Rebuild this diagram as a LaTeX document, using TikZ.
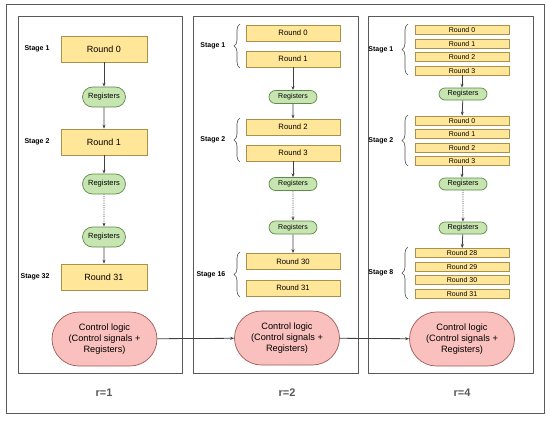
\documentclass[tikz,border=0pt]{standalone}
\usepackage{fontspec}
\setmainfont{Liberation Sans}
\usepackage{xcolor}
\usetikzlibrary{arrows.meta,shapes.misc,decorations.pathreplacing}

\definecolor{roundfill}{HTML}{FFE699}
\definecolor{rounddraw}{HTML}{A8914A}
\definecolor{regfill}{HTML}{C6E5B1}
\definecolor{regdraw}{HTML}{5F8A4C}
\definecolor{ctrlfill}{HTML}{F9C0BE}
\definecolor{ctrldraw}{HTML}{9C5B57}
\definecolor{framegray}{HTML}{5A5A5A}

\begin{document}
\begin{tikzpicture}[x=1pt,y=-1pt,
  frame/.style={draw=framegray, line width=0.8pt},
  roundbox/.style={draw=rounddraw, fill=roundfill, line width=0.7pt, inner sep=0pt},
  regbox/.style={draw=regdraw, fill=regfill, line width=0.7pt, rounded rectangle, inner sep=0pt, minimum width=43pt, minimum height=20pt, font=\fontsize{7.5}{8}\selectfont},
  ctrlbox/.style={draw=ctrldraw, fill=ctrlfill, line width=0.7pt, rounded rectangle, inner sep=0pt, minimum width=105pt, minimum height=54pt, align=center, font=\fontsize{9.2}{11}\selectfont},
  stagelabel/.style={anchor=east, font=\bfseries\fontsize{7}{8}\selectfont},
  flow/.style={draw=black!75, line width=0.8pt, -{Stealth[length=4pt,width=3pt]}},
  stagebrace/.style={draw=black!70, line width=0.6pt, decorate, decoration={brace, amplitude=6pt}},
  rlabel/.style={text=black!65, font=\bfseries\fontsize{11}{12}\selectfont}]
\useasboundingbox (0,0) rectangle (550,421);

% frames
\draw[frame] (6,4) rectangle (544,413);
\draw[frame] (18,16) rectangle (182,373);
\draw[frame] (193,16) rectangle (358,373);
\draw[frame] (368,16) rectangle (533,373);

% r = 1
\begin{scope}
\tikzset{ra/.style={roundbox, minimum width=86pt, minimum height=26pt, font=\fontsize{9}{10}\selectfont}}
\node[ra] (a0) at (104,49) {Round 0};
\node[regbox] (ar1) at (104,97) {Registers};
\node[ra] (a1) at (104,142) {Round 1};
\node[regbox] (ar2) at (104,184) {Registers};
\node[regbox] (ar3) at (104,237) {Registers};
\node[ra] (a31) at (104,277) {Round 31};
\node[ctrlbox] (actrl) at (104.5,339) {Control logic\\(Control signals +\\Registers)};
\node[stagelabel] at (53,49) {Stage 1};
\node[stagelabel] at (53,142) {Stage 2};
\node[stagelabel] at (53,277) {Stage 32};
\draw[flow] (a0) -- (ar1);
\draw[flow] (ar1) -- (a1);
\draw[flow] (a1) -- (ar2);
\draw[flow, densely dotted] (ar2) -- (ar3);
\draw[flow] (ar3) -- (a31);
\node[rlabel] at (104,393) {r=1};
\end{scope}

% r = 2
\begin{scope}
\tikzset{rb/.style={roundbox, minimum width=94pt, minimum height=16pt, font=\fontsize{7.7}{8}\selectfont}}
\node[rb] (b0) at (293,33) {Round 0};
\node[rb] (b1) at (293,59) {Round 1};
\node[regbox, minimum width=48pt, minimum height=13pt, font=\fontsize{7}{8}\selectfont] (br1) at (293,97) {Registers};
\node[rb] (b2) at (293,127) {Round 2};
\node[rb] (b3) at (293,153) {Round 3};
\node[regbox, minimum width=48pt, minimum height=13pt, font=\fontsize{7}{8}\selectfont] (br2) at (293,184) {Registers};
\node[regbox, minimum width=48pt, minimum height=13pt, font=\fontsize{7}{8}\selectfont] (br3) at (293,227.5) {Registers};
\node[rb] (b30) at (293,261.5) {Round 30};
\node[rb] (b31) at (293,288) {Round 31};
\node[ctrlbox] (bctrl) at (287,338) {Control logic\\(Control signals +\\Registers)};
\draw[stagebrace] (240,68) -- (240,24) node[midway, left=11pt, stagelabel] {Stage 1};
\draw[stagebrace] (240,162) -- (240,118) node[midway, left=11pt, stagelabel] {Stage 2};
\draw[stagebrace] (240,297) -- (240,252) node[midway, left=11pt, stagelabel] {Stage 16};
\draw[flow] (b1) -- (br1);
\draw[flow] (br1) -- (b2);
\draw[flow] (b3) -- (br2);
\draw[flow, densely dotted] (br2) -- (br3);
\draw[flow] (br3) -- (b30);
\node[rlabel] at (287,393) {r=2};
\end{scope}

% r = 4
\begin{scope}
\tikzset{rc/.style={roundbox, minimum width=94pt, minimum height=9pt, font=\fontsize{7}{7}\selectfont}}
\node[rc] (c0) at (462,30) {Round 0};
\node[rc] (c1) at (462,43.5) {Round 1};
\node[rc] (c2) at (462,57) {Round 2};
\node[rc] (c3) at (462,70.5) {Round 3};
\node[regbox, minimum width=48pt, minimum height=12pt, font=\fontsize{7.3}{8}\selectfont] (cr1) at (463,94) {Registers};
\node[rc] (d0) at (462,120.5) {Round 0};
\node[rc] (d1) at (462,134) {Round 1};
\node[rc] (d2) at (462,147.5) {Round 2};
\node[rc] (d3) at (462,161) {Round 3};
\node[regbox, minimum width=48pt, minimum height=12pt, font=\fontsize{7.3}{8}\selectfont] (cr2) at (463,184) {Registers};
\node[regbox, minimum width=48pt, minimum height=12pt, font=\fontsize{7.3}{8}\selectfont] (cr3) at (463,228) {Registers};
\node[rc] (e28) at (462,253) {Round 28};
\node[rc] (e29) at (462,266.5) {Round 29};
\node[rc] (e30) at (462,280) {Round 30};
\node[rc] (e31) at (462,293.5) {Round 31};
\node[ctrlbox] (cctrl) at (462,339) {Control logic\\(Control signals +\\Registers)};
\draw[stagebrace] (408,75) -- (408,24) node[midway, left=11pt, stagelabel] {Stage 1};
\draw[stagebrace] (408,166) -- (408,115) node[midway, left=11pt, stagelabel] {Stage 2};
\draw[stagebrace] (408,299) -- (408,247) node[midway, left=11pt, stagelabel] {Stage 8};
\draw[flow] (c3) -- (c3 |- cr1.north);
\draw[flow] (cr1) -- (d0);
\draw[flow] (d3) -- (d3 |- cr2.north);
\draw[flow, densely dotted] (cr2) -- (cr3);
\draw[flow] (cr3) -- (e28);
\node[rlabel] at (462,393) {r=4};
\end{scope}

% control chain
\draw[flow] (actrl) -- (bctrl);
\draw[flow] (bctrl) -- (cctrl);
\end{tikzpicture}
\end{document}
